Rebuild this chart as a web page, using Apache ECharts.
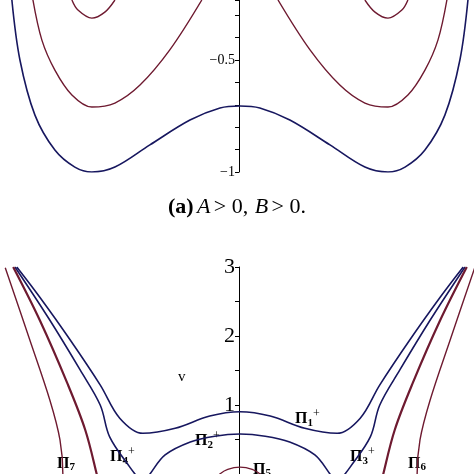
<!DOCTYPE html><html><head><meta charset="utf-8">
<script src="https://cdn.jsdelivr.net/npm/echarts@6/dist/echarts.min.js"></script>
<style>body{margin:0;background:#fff}#c{width:474px;height:474px}</style></head><body><div id="c"></div>
<script>
// Top panel (a): half curves (left side), mirrored
const topOuter=[[-1.018,-0.232],[-0.982,-0.5],[-0.915,-0.746],[-0.826,-0.902],[-0.737,-0.978],[-0.661,-1.0],[-0.558,-0.978],[-0.402,-0.879],[-0.223,-0.768],[-0.089,-0.714],[0,-0.705]];
const topMiddle=[[-0.924,-0.232],[-0.884,-0.411],[-0.826,-0.545],[-0.75,-0.656],[-0.661,-0.71],[-0.558,-0.692],[-0.446,-0.612],[-0.313,-0.455],[-0.17,-0.232]];
const topInner=[[-0.75,-0.232],[-0.723,-0.277],[-0.661,-0.313],[-0.603,-0.286],[-0.558,-0.232]];
// Bottom panel (b)
const pi1=[[-3.1,3.0],[-2.78,2.58],[-2.36,1.99],[-1.94,1.36],[-1.67,0.9],[-1.35,0.69],[-0.9,0.76],[-0.42,0.93],[0,0.99]];
const sepBlue=[[-3.125,3],[-2.64,2.26],[-2.22,1.57],[-1.94,1.08],[-1.81,0.64],[-1.53,0.22],[-1.39,0.04]];
const sepRed=[[-3.15,3],[-2.78,2.26],[-2.4,1.39],[-2.15,0.74],[-1.99,0.125],[-1.98,0.05]];
const pi7=[[-3.26,2.99],[-2.92,1.99],[-2.64,1.15],[-2.5,0.6],[-2.46,0.125],[-2.46,0.05]];
const pi2=[[-1.3,0.05],[-1.25,0.125],[-1.04,0.39],[-0.69,0.57],[-0.35,0.65],[0,0.68]];
const pi5=[[-0.3,0.08],[-0.28,0.125],[-0.17,0.19],[0,0.22]];
const BLUE='#17175f',RED='#6e1a30';
function mirror(h){const r=h.slice();for(let i=h.length-1;i>=0;i--){if(h[i][0]!==0)r.push([-h[i][0],h[i][1]]);}return r;}
function halves(h){return [h,h.map(p=>[-p[0],p[1]])];}
const series=[];
function add(d,c,w,g){series.push({type:'line',data:d,xAxisIndex:g,yAxisIndex:g,showSymbol:false,smooth:0.35,lineStyle:{color:c,width:w},silent:true});}
add(mirror(topOuter),BLUE,1.6,0);
halves(topMiddle).forEach(d=>add(d,RED,1.4,0));
halves(topInner).forEach(d=>add(d,RED,1.4,0));
add(mirror(pi1),BLUE,1.6,1);
add(mirror(pi2),BLUE,1.6,1);
add(mirror(pi5),RED,1.4,1);
halves(sepBlue).forEach(d=>add(d,BLUE,1.6,1));
halves(sepRed).forEach(d=>add(d,RED,2.2,1));
halves(pi7).forEach(d=>add(d,RED,1.4,1));
const F='Liberation Serif';
const yax=(min,max,interval,split,g,show,fs,fmt)=>({type:'value',gridIndex:g,show,min,max,interval,axisLine:{onZero:false,lineStyle:{color:'#000',width:1}},axisTick:{length:4,lineStyle:{color:'#000'}},minorTick:{show:true,splitNumber:split,length:4,lineStyle:{color:'#000'}},splitLine:{show:false},axisLabel:{color:'#000',fontFamily:F,fontSize:fs,margin:4,formatter:fmt}});
const chart=echarts.init(document.getElementById('c'));
const sub=(n,sup)=>'{b|Π}{s|'+n+'}'+(sup?'{p|+}':'');
const rich={b:{fontFamily:F,fontWeight:'bold',fontSize:16,fill:'#000'},s:{fontFamily:F,fontWeight:'bold',fontSize:11,padding:[8,0,0,0]},p:{fontFamily:F,fontSize:12,padding:[0,0,10,0]}};
const lbl=[[sub(1,1),295,408],[sub(2,1),195,430],[sub(3,1),350,446],[sub(4,1),110,446],[sub(5,0),253,460],[sub(6,0),408,454],[sub(7,0),57,454]];
const fTop=v=>v===-0.5?'−0.5':v===-1?'−1':'';
const fBot=v=>[1,2,3].includes(v)?String(v):'';
chart.setOption({animation:false,
grid:[{left:0,right:0,top:0,height:172},{left:0,right:0,top:267,bottom:0},{left:239,width:1,top:0,height:172},{left:239,width:1,top:267,bottom:-9}],
xAxis:[{type:'value',min:-1.071,max:1.045,show:false},{type:'value',min:-3.333,max:3.25,show:false,gridIndex:1},{type:'value',gridIndex:2,show:false},{type:'value',gridIndex:3,show:false}],
yAxis:[yax(-1,-0.232,0.5,5,0,false,14,fTop),yax(0.125,3,1,2,1,false,22,fBot),yax(-1,-0.232,0.5,5,2,true,14,fTop),yax(0,3,1,2,3,true,22,fBot)],
series,
graphic:[{type:'text',left:'center',top:196,style:{text:'{a|(a)} {i|A} {r|> 0,}  {i|B} {r|> 0.}',rich:{a:{fontFamily:F,fontWeight:'bold',fontSize:22},i:{fontFamily:F,fontStyle:'italic',fontSize:22},r:{fontFamily:F,fontSize:22}}}},
{type:'text',x:178,y:370,style:{text:'v',fontFamily:F,fontSize:15,fill:'#000'}}].concat(lbl.map(l=>({type:'text',x:l[1],y:l[2],style:{text:l[0],rich}})))
});
</script></body></html>
